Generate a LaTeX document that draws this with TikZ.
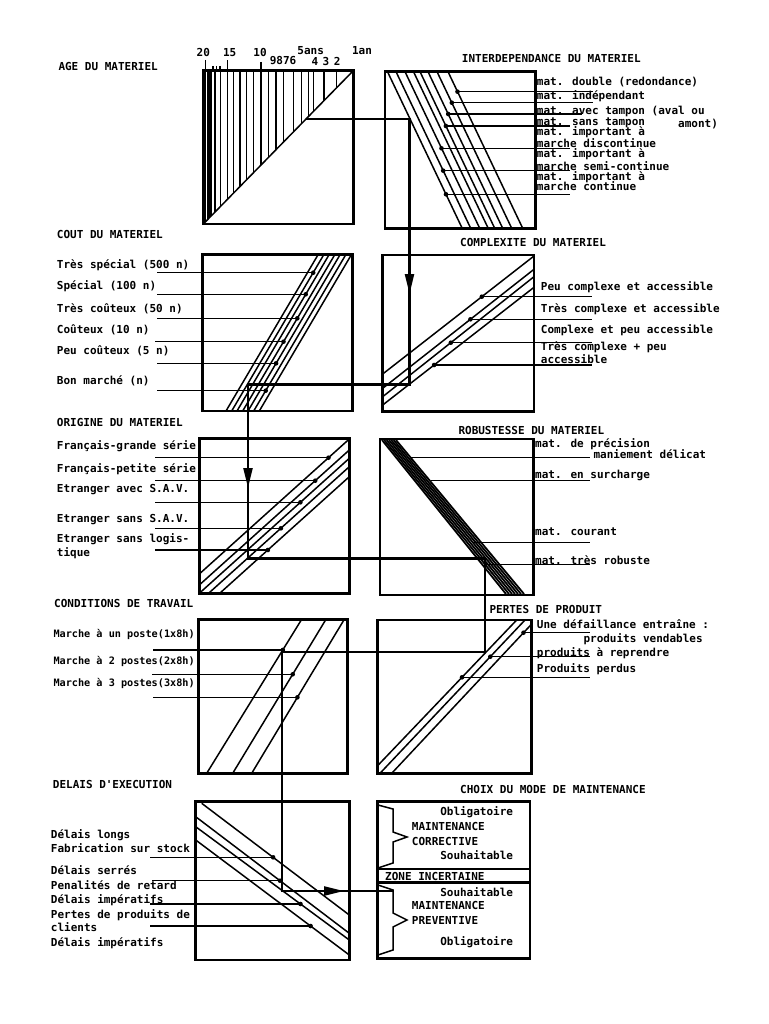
\documentclass[tikz,border=0pt]{standalone}
\usepackage{fontspec}
\newfontfamily\tw{DejaVu Sans Mono}
\usetikzlibrary{arrows.meta}
\newcommand\ldr[3]{\draw[ld] (#1,#3) -- (#2,#3); \fill (#1,#3) circle[radius=2.3pt];}
\begin{document}
\begin{tikzpicture}[x=1pt,y=-1pt,
  box/.style={line width=2.6pt},
  hl/.style={line width=1.5pt},
  ld/.style={line width=1.5pt},
  conn/.style={line width=2.4pt},
  arrowhead/.style={line width=2.4pt,-{Triangle[length=20pt,width=9pt]}},
  lbl/.style={anchor=west,inner sep=0pt,font=\tw\bfseries\fontsize{11}{12}\selectfont,text height=8pt,text depth=2pt},
  lbls/.style={lbl,font=\tw\bfseries\fontsize{10.2}{12}\selectfont},
  lblc/.style={lbl,anchor=center},
  lble/.style={lbl,anchor=east}
]
\fill[white] (0,0) rectangle (768,1024);
\useasboundingbox (0,0) rectangle (768,1024);

% ---------------- AGE DU MATERIEL
\node[lbl] (tage) at (58.3,67.3) {AGE DU MATERIEL};
\draw[box] (203.3,70.7) rectangle (353.3,224);
\draw[hl] (203.3,224) -- (353.3,70.7);
\foreach \x in {205.7,208,210,211.7,215,220.7,227.3,233.3,240,246.7,253.3,261,268.3,276,283.3,293.3,301.7,308.3,313.3,324,336.7}
  \draw[hl] (\x,70.7) -- (\x,{224-(\x-203.3)*1.022});
\foreach \x in {213,216.5,220} \draw[hl] (\x,66) -- (\x,70.7);
\draw[hl] (205.7,60) -- (205.7,70.7);
\draw[hl] (227.3,60) -- (227.3,70.7);
\draw[hl] (261,62) -- (261,70.7);
\node[lblc] (y20) at (203.3,53.3) {20};
\node[lblc] (y15) at (229.7,53.3) {15};
\node[lblc] (y10) at (260,53.3) {10};
\node[lblc] (y9) at (283,61.5) {9876};
\node[lblc] (y5) at (310.7,51.3) {5ans};
\node[lblc] (y4) at (315,62.3) {4};
\node[lblc] (y3) at (326,62.3) {3};
\node[lblc] (y2) at (337.3,62.3) {2};
\node[lblc] (y1) at (362,51.3) {1an};

% ---------------- INTERDEPENDANCE
\node[lbl] (tint) at (461.7,60) {INTERDEPENDANCE DU MATERIEL};
\draw[box] (385,71.7) rectangle (535.5,228.3);
\foreach \t in {387.5,396,405,413.5,420,428,437,448}
  \draw[hl] (\t,71.7) -- ({\t+74.7},228.3);
\ldr{457.5}{593}{91.7}
\ldr{451.8}{593}{102.7}
\ldr{448.2}{582}{114}
\ldr{445.9}{570}{126}
\ldr{441.5}{570}{148.3}
\ldr{443.2}{570}{170.7}
\ldr{446}{570}{194.3}
\node[lbl] (i1) at (536.7,83) {mat. double (redondance)};
\node[lbl] (i2) at (536.7,96.7) {mat. indépendant};
\node[lbl] (i3) at (536.7,111.2) {mat. avec tampon (aval ou};
\node[lbl] (i4) at (536.7,122.2) {mat. sans tampon};
\node[lbl] (i4b) at (678,124.3) {amont)};
\node[lbl] (i5) at (536.7,132.2) {mat. important à};
\node[lbl] (i5b) at (536.7,144.3) {marche discontinue};
\node[lbl] (i6) at (536.7,155) {mat. important à};
\node[lbl] (i6b) at (536.7,167.3) {marche semi-continue};
\node[lbl] (i7) at (536.7,177.3) {mat. important à};
\node[lbl] (i7b) at (536.7,187.5) {marche continue};

% ---------------- COUT
\node[lbl] (tcout) at (56.7,236) {COUT DU MATERIEL};
\draw[box] (202.7,254.3) rectangle (352.7,411);
\foreach \b in {226,231.7,237,242.7,248,253.7,259.3}
  \draw[hl] (\b,411) -- ({\b+92.3},254.3);
\ldr{313.2}{156.7}{272.7}
\ldr{305.7}{156.7}{294.3}
\ldr{297.3}{156.7}{318.3}
\ldr{283.5}{155}{341.7}
\ldr{276.1}{156.7}{363.3}
\ldr{265.7}{156.7}{390.7}
\node[lbl] (c1) at (56.7,265) {Très spécial (500 n)};
\node[lbl] (c2) at (56.7,286.7) {Spécial (100 n)};
\node[lbl] (c3) at (56.7,309) {Très coûteux (50 n)};
\node[lbl] (c4) at (56.7,330.7) {Coûteux (10 n)};
\node[lbl] (c5) at (56.7,351.7) {Peu coûteux (5 n)};
\node[lbl] (c6) at (56.7,381.7) {Bon marché (n)};

% ---------------- COMPLEXITE
\node[lbl] (tcpx) at (460,244) {COMPLEXITE DU MATERIEL};
\draw[box] (382.7,255) rectangle (534,411.7);
\draw[hl] (382.7,374) -- (534,256);
\draw[hl] (382.7,388.3) -- (534,269.3);
\draw[hl] (382.7,396.7) -- (534,276.7);
\draw[hl] (382.7,405) -- (534,287.3);
\ldr{481.8}{591.7}{296.7}
\ldr{470.4}{591.7}{319.3}
\ldr{450.8}{591.7}{342.7}
\ldr{434.1}{591.7}{365}
\node[lbl] (x1) at (540.7,287.3) {Peu complexe et accessible};
\node[lbl] (x2) at (540.7,309.3) {Très complexe et accessible};
\node[lbl] (x3) at (540.7,330) {Complexe et peu accessible};
\node[lbl] (x4) at (540.7,347.3) {Très complexe + peu};
\node[lbl] (x4b) at (540.7,360) {accessible};

% ---------------- ORIGINE
\node[lbl] (tori) at (56.7,423.3) {ORIGINE DU MATERIEL};
\draw[box] (199.3,438.3) rectangle (349.3,593.3);
\draw[hl] (349.3,439) -- (199.3,574);
\draw[hl] (349.3,450) -- (199.3,585);
\draw[hl] (349.3,458.3) -- (199.3,593.3);
\draw[hl] (349.3,466.7) -- (208.6,593.3);
\draw[hl] (349.3,476.7) -- (219.7,593.3);
\ldr{328.5}{155}{457.7}
\ldr{315.2}{155}{480.7}
\ldr{300.4}{155}{502.3}
\ldr{280.9}{155}{528.3}
\ldr{267.9}{155}{550}
\node[lbl] (o1) at (56.7,446.7) {Français-grande série};
\node[lbl] (o2) at (56.7,469) {Français-petite série};
\node[lbl] (o3) at (56.7,489) {Etranger avec S.A.V.};
\node[lbl] (o4) at (56.7,519) {Etranger sans S.A.V.};
\node[lbl] (o5) at (56.7,539) {Etranger sans logis-};
\node[lbl] (o5b) at (56.7,553.3) {tique};

% ---------------- ROBUSTESSE
\node[lbl] (trob) at (458.3,431.7) {ROBUSTESSE DU MATERIEL};
\draw[box] (380,439) rectangle (533.3,595);
\foreach \t/\b in {382/506,384.3/509,386.6/512,389/515,391.3/518,393.6/521,396/524}
  \draw[line width=1.8pt] (\t,440) -- (\b,594);
\draw[ld] (411,457.7) -- (590,457.7);
\draw[ld] (431,480.7) -- (590,480.7);
\draw[ld] (472,542.7) -- (590,542.7);
\draw[ld] (485,564.3) -- (590,564.3);
\node[lbl] (r1) at (535,444.5) {mat. de précision};
\node[lbl] (r1b) at (593.3,455.3) {maniement délicat};
\node[lbl] (r2) at (535,475) {mat. en surcharge};
\node[lbl] (r3) at (535,532.3) {mat. courant};
\node[lbl] (r4) at (535,561) {mat. très robuste};

% ---------------- CONDITIONS
\node[lbl] (tcond) at (54,604) {CONDITIONS DE TRAVAIL};
\draw[box] (198.3,619.3) rectangle (347.7,773.3);
\draw[hl] (206.7,773.3) -- (301.7,619.3);
\draw[hl] (232.7,773.3) -- (326,619.3);
\draw[hl] (251.7,773.3) -- (344.3,619.3);
\ldr{282.8}{153.3}{650}
\ldr{292.7}{151.7}{674.3}
\ldr{297.4}{153.3}{697.3}
\node[lbls] (w1) at (53.3,634) {Marche à un poste(1x8h)};
\node[lbls] (w2) at (53.3,661.7) {Marche à 2 postes(2x8h)};
\node[lbls] (w3) at (53.3,683.3) {Marche à 3 postes(3x8h)};

% ---------------- PERTES
\node[lbl] (tper) at (489.3,610.7) {PERTES DE PRODUIT};
\draw[box] (377.3,620) rectangle (531.7,773.3);
\draw[hl] (377.3,766) -- (516.7,620);
\draw[hl] (380,773.3) -- (525,620);
\draw[hl] (391.7,773.3) -- (531.7,624);
\ldr{523.5}{590}{632.7}
\ldr{490.3}{590}{656.7}
\ldr{462}{590}{677.3}
\node[lbl] (p1) at (536.7,625) {Une défaillance entraîne :};
\node[lbl] (p1b) at (583.3,639.3) {produits vendables};
\node[lbl] (p2) at (536.7,653.3) {produits à reprendre};
\node[lbl] (p3) at (536.7,669) {Produits perdus};

% ---------------- DELAIS
\node[lbl] (tdel) at (52.7,785) {DELAIS D'EXECUTION};
\draw[box] (195.7,801.7) rectangle (349.3,960);
\draw[hl] (201.7,803.3) -- (349.3,915);
\draw[hl] (195.7,816.7) -- (349.3,933.3);
\draw[hl] (195.7,826.7) -- (349.3,940);
\draw[hl] (195.7,840) -- (349.3,955);
\ldr{273.1}{150}{857.3}
\ldr{280}{151.7}{880.7}
\ldr{300.5}{150}{904}
\ldr{310.6}{150}{926}
\node[lbl] (d1) at (50.7,835) {Délais longs};
\node[lbl] (d1b) at (50.7,849.3) {Fabrication sur stock};
\node[lbl] (d2) at (50.7,871) {Délais serrés};
\node[lbl] (d2b) at (50.7,886) {Penalités de retard};
\node[lbl] (d3) at (50.7,900) {Délais impératifs};
\node[lbl] (d4) at (50.7,915) {Pertes de produits de};
\node[lbl] (d4b) at (50.7,928.3) {clients};
\node[lbl] (d4c) at (50.7,943.3) {Délais impératifs};

% ---------------- CHOIX
\node[lbl] (tcho) at (460,790.7) {CHOIX DU MODE DE MAINTENANCE};
\draw[box] (377.3,801.7) rectangle (530,958.3);
\draw[box] (377.3,869) -- (530,869);
\draw[box] (377.3,882.7) -- (530,882.7);
\draw[hl] (378,805) -- (393,809) -- (393,832) -- (407,837) -- (393,842) -- (393,863) -- (378,868);
\draw[hl] (378,885) -- (393,890) -- (393,913) -- (407,920) -- (393,927) -- (393,950) -- (378,955);
\node[lble] (m1) at (513.3,812.7) {Obligatoire};
\node[lbl] (m2) at (411.7,827.3) {MAINTENANCE};
\node[lbl] (m3) at (411.7,842) {CORRECTIVE};
\node[lble] (m4) at (513.3,856) {Souhaitable};
\node[lbl] (m5) at (385,877) {ZONE INCERTAINE};
\node[lble] (m6) at (513.3,893.3) {Souhaitable};
\node[lbl] (m7) at (411.7,906.7) {MAINTENANCE};
\node[lbl] (m8) at (411.7,921.7) {PREVENTIVE};
\node[lble] (m9) at (513.3,942.7) {Obligatoire};

% ---------------- main connector
\coordinate (a0) at (305.7,119.3);
\coordinate (a1) at (409.5,119.3);
\coordinate (a2) at (409.5,384.5);
\coordinate (a3) at (248,384.5);
\coordinate (a4) at (248,558.5);
\coordinate (a5) at (485,558.5);
\coordinate (a6) at (485,652);
\coordinate (a7) at (282,652);
\coordinate (a8) at (282,891);
\coordinate (a9) at (393,891);
\draw[conn] (a0) -- (a1) -- (a2) -- (a3) -- (a4) -- (a5) -- (a6) -- (a7) -- (a8) -- (a9);
\draw[arrowhead] (409.5,270) -- (409.5,294);
\draw[arrowhead] (248,464) -- (248,488);
\draw[arrowhead] (320,891) -- (344,891);
\end{tikzpicture}
\end{document}
